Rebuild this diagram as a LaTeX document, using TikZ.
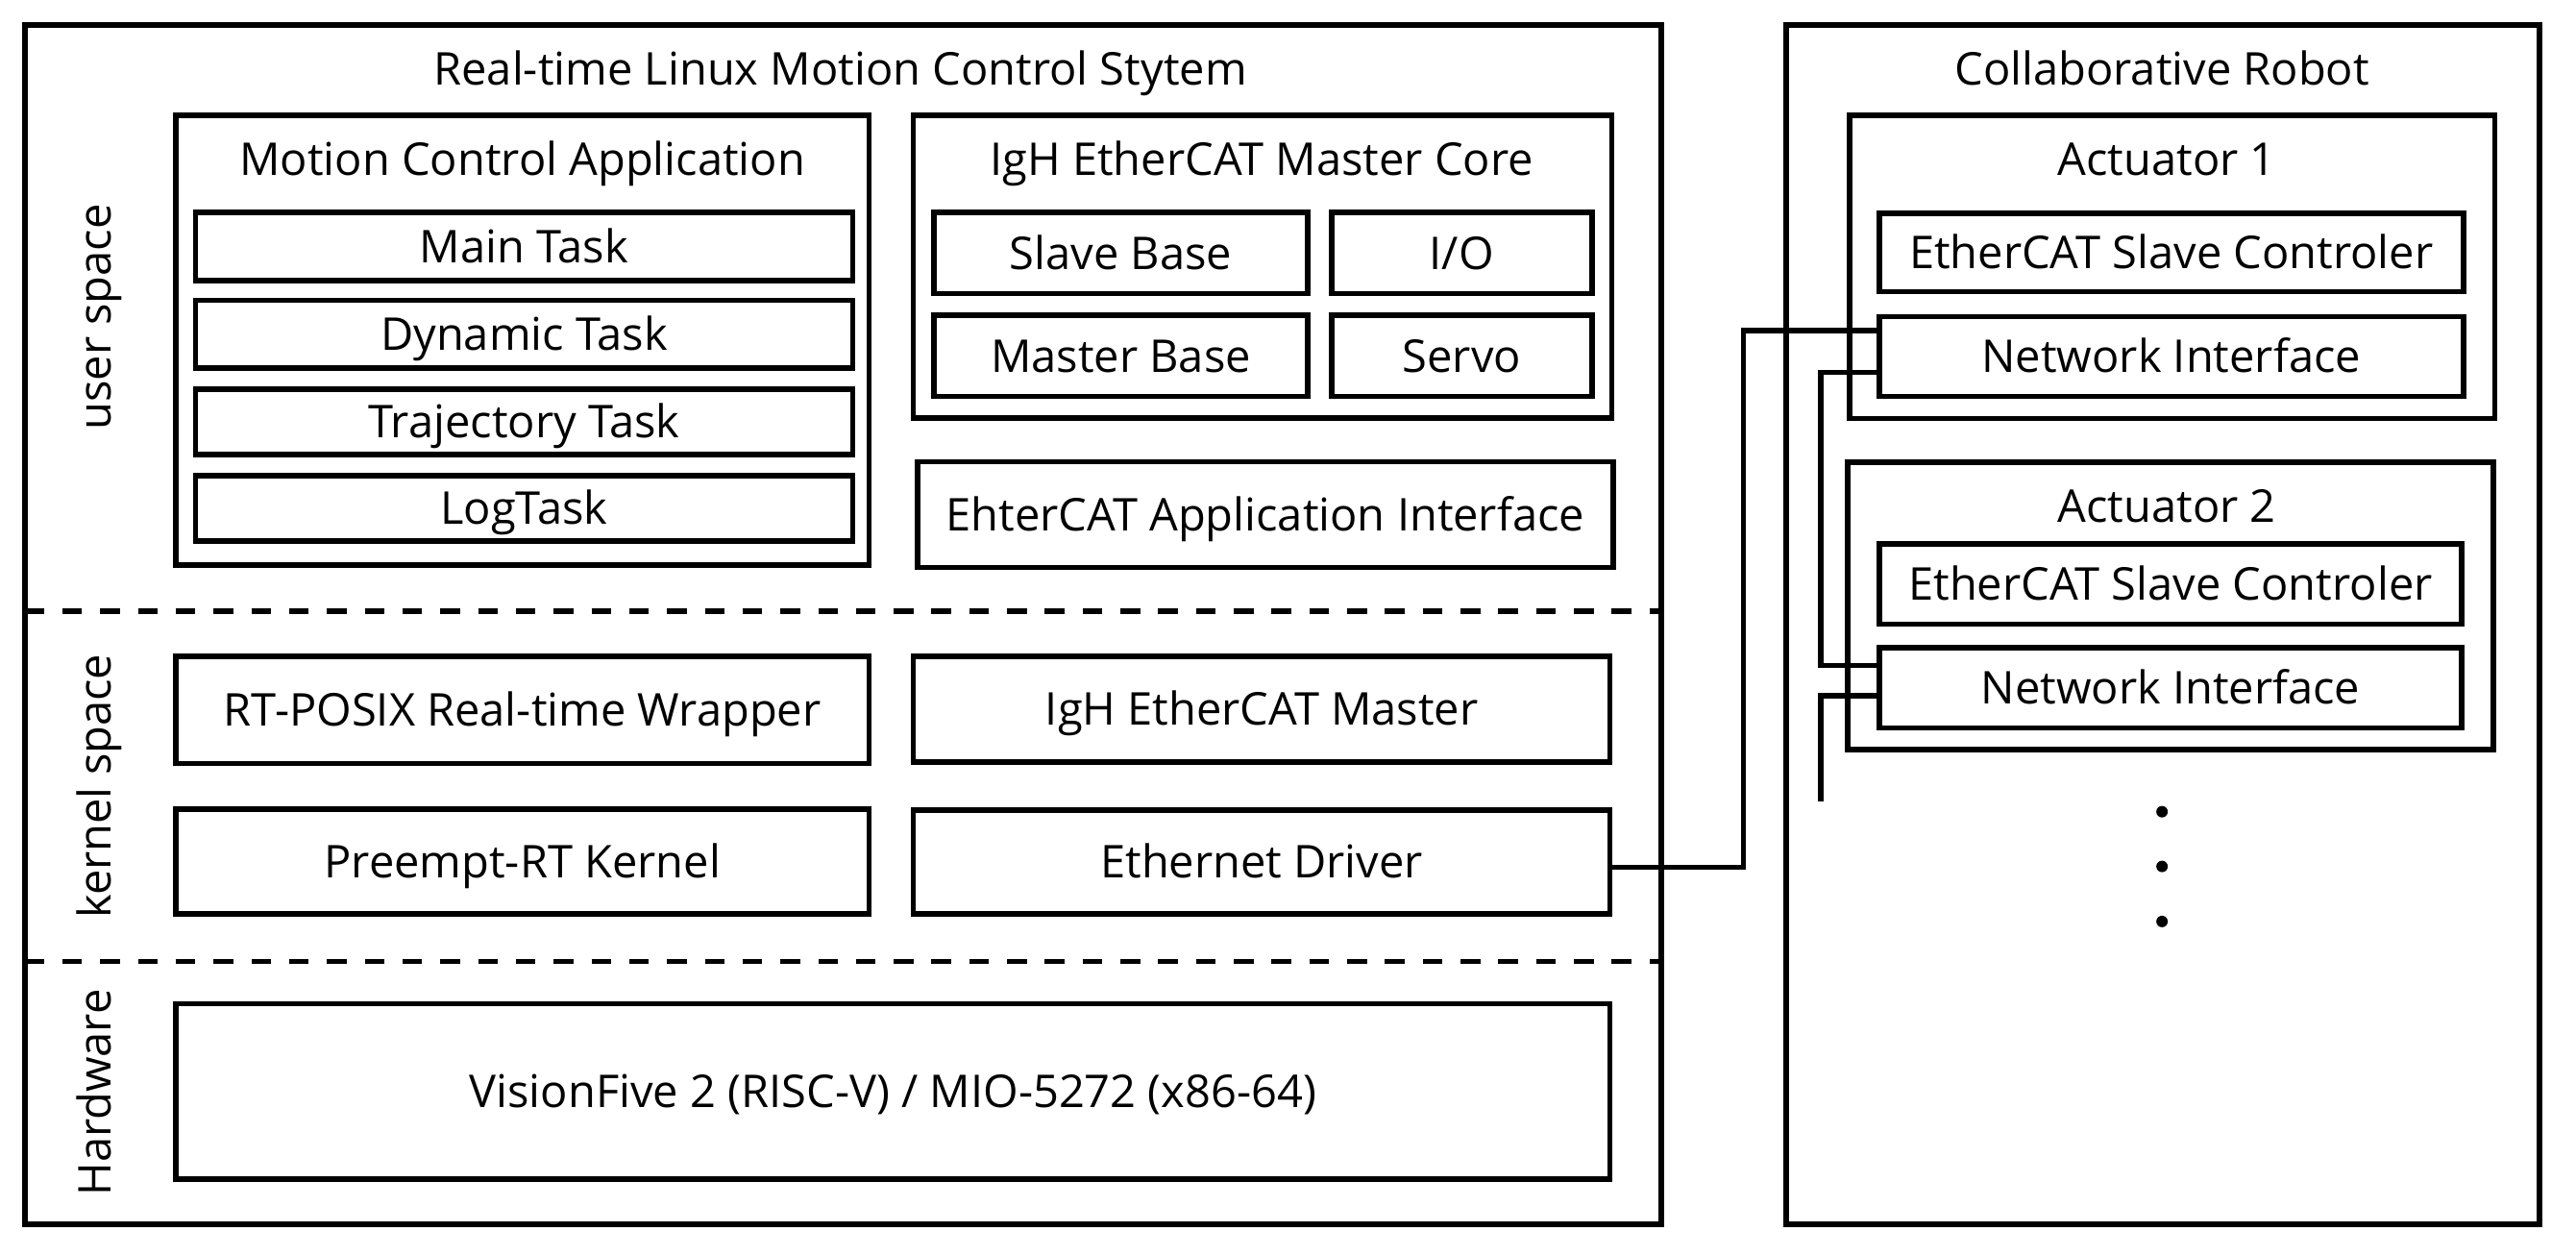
\documentclass[tikz,border=0pt]{standalone}
\usepackage{fontspec}
\setmainfont{Open Sans}
\usetikzlibrary{calc,fit}
\begin{document}
\begin{tikzpicture}[x=1pt,y=-1pt,
  frame/.style={draw, line width=3.6pt, inner sep=0pt},
  box/.style={draw, line width=3.3pt, inner sep=0pt},
  txt/.style={font=\fontsize{27.5}{31}\selectfont, text height=19.6pt, text depth=0pt, inner sep=0pt},
  wire/.style={draw, line width=3.2pt},
  divider/.style={draw, line width=3.2pt, dash pattern=on 12pt off 11pt},
  dotn/.style={circle, fill, inner sep=0pt, minimum size=7pt}]
\useasboundingbox[fill=white] (0,0) rectangle (1568,764);

% outer frames
\node[frame, fit={(15,15)(1011,745)}] (outL) {};
\node[frame, fit={(1087,15)(1546,745)}] (outR) {};
\node[txt] (tL) at (511.5,42) {Real-time Linux Motion Control Stytem};
\node[txt] (tR) at (1316,42) {Collaborative Robot};

% layer dividers
\coordinate (dv1) at (15,372);
\coordinate (dv2) at (15,585);
\draw[divider] (dv1) -- (dv1 -| outL.east);
\draw[divider] (dv2) -- (dv2 -| outL.east);

% layer labels
\node[txt, rotate=90] (lus) at (57.5,193) {user space};
\node[txt, rotate=90] (lks) at (57.5,478.5) {kernel space};
\node[txt, rotate=90] (lhw) at (57.5,665) {Hardware};

% Motion Control Application
\node[box, fit={(107,70)(529,344)}] (mca) {};
\node[txt] (tmca) at (318,97) {Motion Control Application};
\node[box, fit={(119,129.4)(519,170.6)}, label={[txt]center:Main Task}] (t1) {};
\node[box, fit={(119,182.8)(519,224)}, label={[txt]center:Dynamic Task}] (t2) {};
\node[box, fit={(119,236.8)(519,276.8)}, label={[txt]center:Trajectory Task}] (t3) {};
\node[box, fit={(119,289.4)(519,329.4)}, label={[txt]center:LogTask}] (t4) {};

% IgH EtherCAT Master Core
\node[box, fit={(556,70)(981,254.3)}] (core) {};
\node[txt] (tcore) at (768,97) {IgH EtherCAT Master Core};
\node[box, fit={(568.5,129.4)(796,178.6)}, label={[txt]center:Slave Base}] (sb) {};
\node[box, fit={(810.5,129.4)(969,178.6)}, label={[txt]center:I/O}] (io) {};
\node[box, fit={(568.5,191.8)(796,241.3)}, label={[txt]center:Master Base}] (mb) {};
\node[box, fit={(810.5,191.8)(969,241.3)}, label={[txt]center:Servo}] (sv) {};

\node[box, fit={(558.4,281)(982,345.3)}, label={[txt]center:EhterCAT Application Interface}] (api) {};

% kernel space
\node[box, fit={(107,399.6)(529,464.6)}, label={[txt]center:RT-POSIX Real-time Wrapper}] (rtp) {};
\node[box, fit={(556,399.3)(980,463.6)}, label={[txt]center:IgH EtherCAT Master}] (igh) {};
\node[box, fit={(107,492.3)(529,556.3)}, label={[txt]center:Preempt-RT Kernel}] (prt) {};
\node[box, fit={(556,493)(980,556)}, label={[txt]center:Ethernet Driver}] (ed) {};

% hardware
\node[box, fit={(107,610.8)(980,717.7)}, label={[txt]center:VisionFive 2 (RISC-V) / MIO-5272 (x86-64)}] (hw) {};

% Actuators
\node[box, fit={(1125.7,70.3)(1518.6,254.6)}] (act1) {};
\node[txt] (ta1) at (1319,97) {Actuator 1};
\node[box, fit={(1143.8,129.7)(1499.4,177.6)}, label={[txt]center:EtherCAT Slave Controler}] (esc1) {};
\node[box, fit={(1143.8,192.8)(1499.4,241.3)}, label={[txt]center:Network Interface}] (ni1) {};

\node[box, fit={(1124.6,281.3)(1517.6,456.2)}] (act2) {};
\node[txt] (ta2) at (1319,308) {Actuator 2};
\node[box, fit={(1143.8,331)(1498.5,379.9)}, label={[txt]center:EtherCAT Slave Controler}] (esc2) {};
\node[box, fit={(1143.8,394.3)(1498.5,443)}, label={[txt]center:Network Interface}] (ni2) {};

\node[dotn] (d1) at (1316,494) {};
\node[dotn] (d2) at (1316,527.3) {};
\node[dotn] (d3) at (1316,560.8) {};

% wiring
\coordinate (edo) at ($(ed.east)+(0,3.4)$);
\coordinate (j1) at (1061.2,201.3);
\coordinate (j2) at (1108.2,226.7);
\coordinate (j3) at (1108.2,404.9);
\coordinate (j4) at (1108.2,423.3);
\coordinate (wend) at (1108.2,487.8);
\draw[wire] (edo) -| (j1) -- (j1 -| ni1.west);
\draw[wire] (j2 -| ni1.west) -- (j2) -- (j3) -- (j3 -| ni2.west);
\draw[wire] (j4 -| ni2.west) -- (j4) -- (wend);
\end{tikzpicture}
\end{document}
